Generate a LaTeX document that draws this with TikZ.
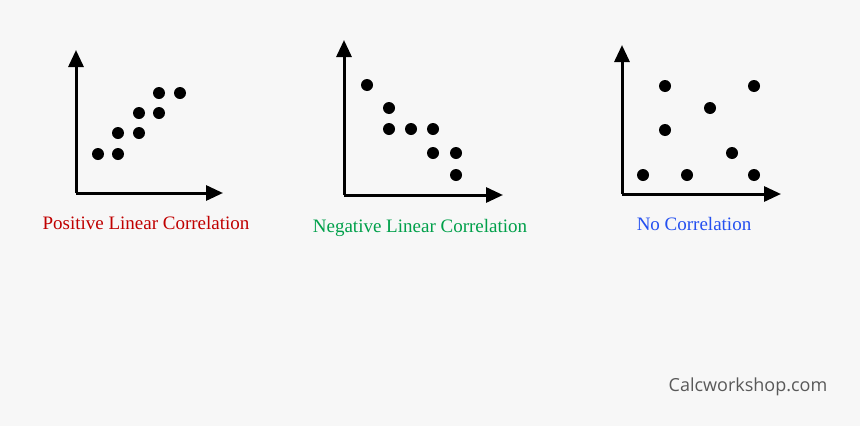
\documentclass[tikz,border=0pt]{standalone}
\usepackage{fontspec}
\setmainfont{Liberation Serif}
\newfontfamily\wmfont{Open Sans}
\usetikzlibrary{arrows.meta}
\definecolor{bg}{HTML}{F7F7F7}
\definecolor{posred}{HTML}{C00000}
\definecolor{neggreen}{HTML}{00A04A}
\definecolor{noblue}{HTML}{2450F0}
\tikzset{
  axis/.style={line width=3pt,-{Triangle[length=17pt,width=15pt]}},
  pt/.style={circle,fill=black,inner sep=0pt,minimum size=12pt},
  lbl/.style={font=\fontsize{19}{22}\selectfont},
}
\begin{document}
\begin{tikzpicture}[x=1pt,y=-1pt]
\fill[bg] (0,0) rectangle (860,426);
\useasboundingbox (0,0) rectangle (860,426);
% plot 1
\coordinate (o1) at (76,193);
\coordinate (y1) at (76,50);
\coordinate (x1) at (223,193);
\draw[axis] (o1) -- (y1);
\draw[axis] (o1) -- (x1);
\foreach \p/\q [count=\i] in {98/154,118/154,118/133,139/133,139/113,159/113,159/93,180/93}
  \node[pt] (a\i) at (\p,\q) {};
\node[lbl,text=posred] (l1) at (146,223) {Positive Linear Correlation};
% plot 2
\coordinate (o2) at (344,195);
\coordinate (y2) at (344,40);
\coordinate (x2) at (503,195);
\draw[axis] (o2) -- (y2);
\draw[axis] (o2) -- (x2);
\foreach \p/\q [count=\i] in {367/85,389/108,389/129,411/129,433/129,433/153,456/153,456/175}
  \node[pt] (b\i) at (\p,\q) {};
\node[lbl,text=neggreen] (l2) at (420,228) {Negative Linear Correlation};
% plot 3
\coordinate (o3) at (622,194);
\coordinate (y3) at (622,45);
\coordinate (x3) at (781,194);
\draw[axis] (o3) -- (y3);
\draw[axis] (o3) -- (x3);
\foreach \p/\q [count=\i] in {643/175,665/86,665/130,687/175,710/108,732/153,754/86,754/175}
  \node[pt] (c\i) at (\p,\q) {};
\node[lbl,text=noblue] (l3) at (694,224) {No Correlation};
\node[font=\wmfont\fontsize{18}{22}\selectfont,text=black!65] (wm) at (748,387) {Calcworkshop.com};
\end{tikzpicture}
\end{document}
